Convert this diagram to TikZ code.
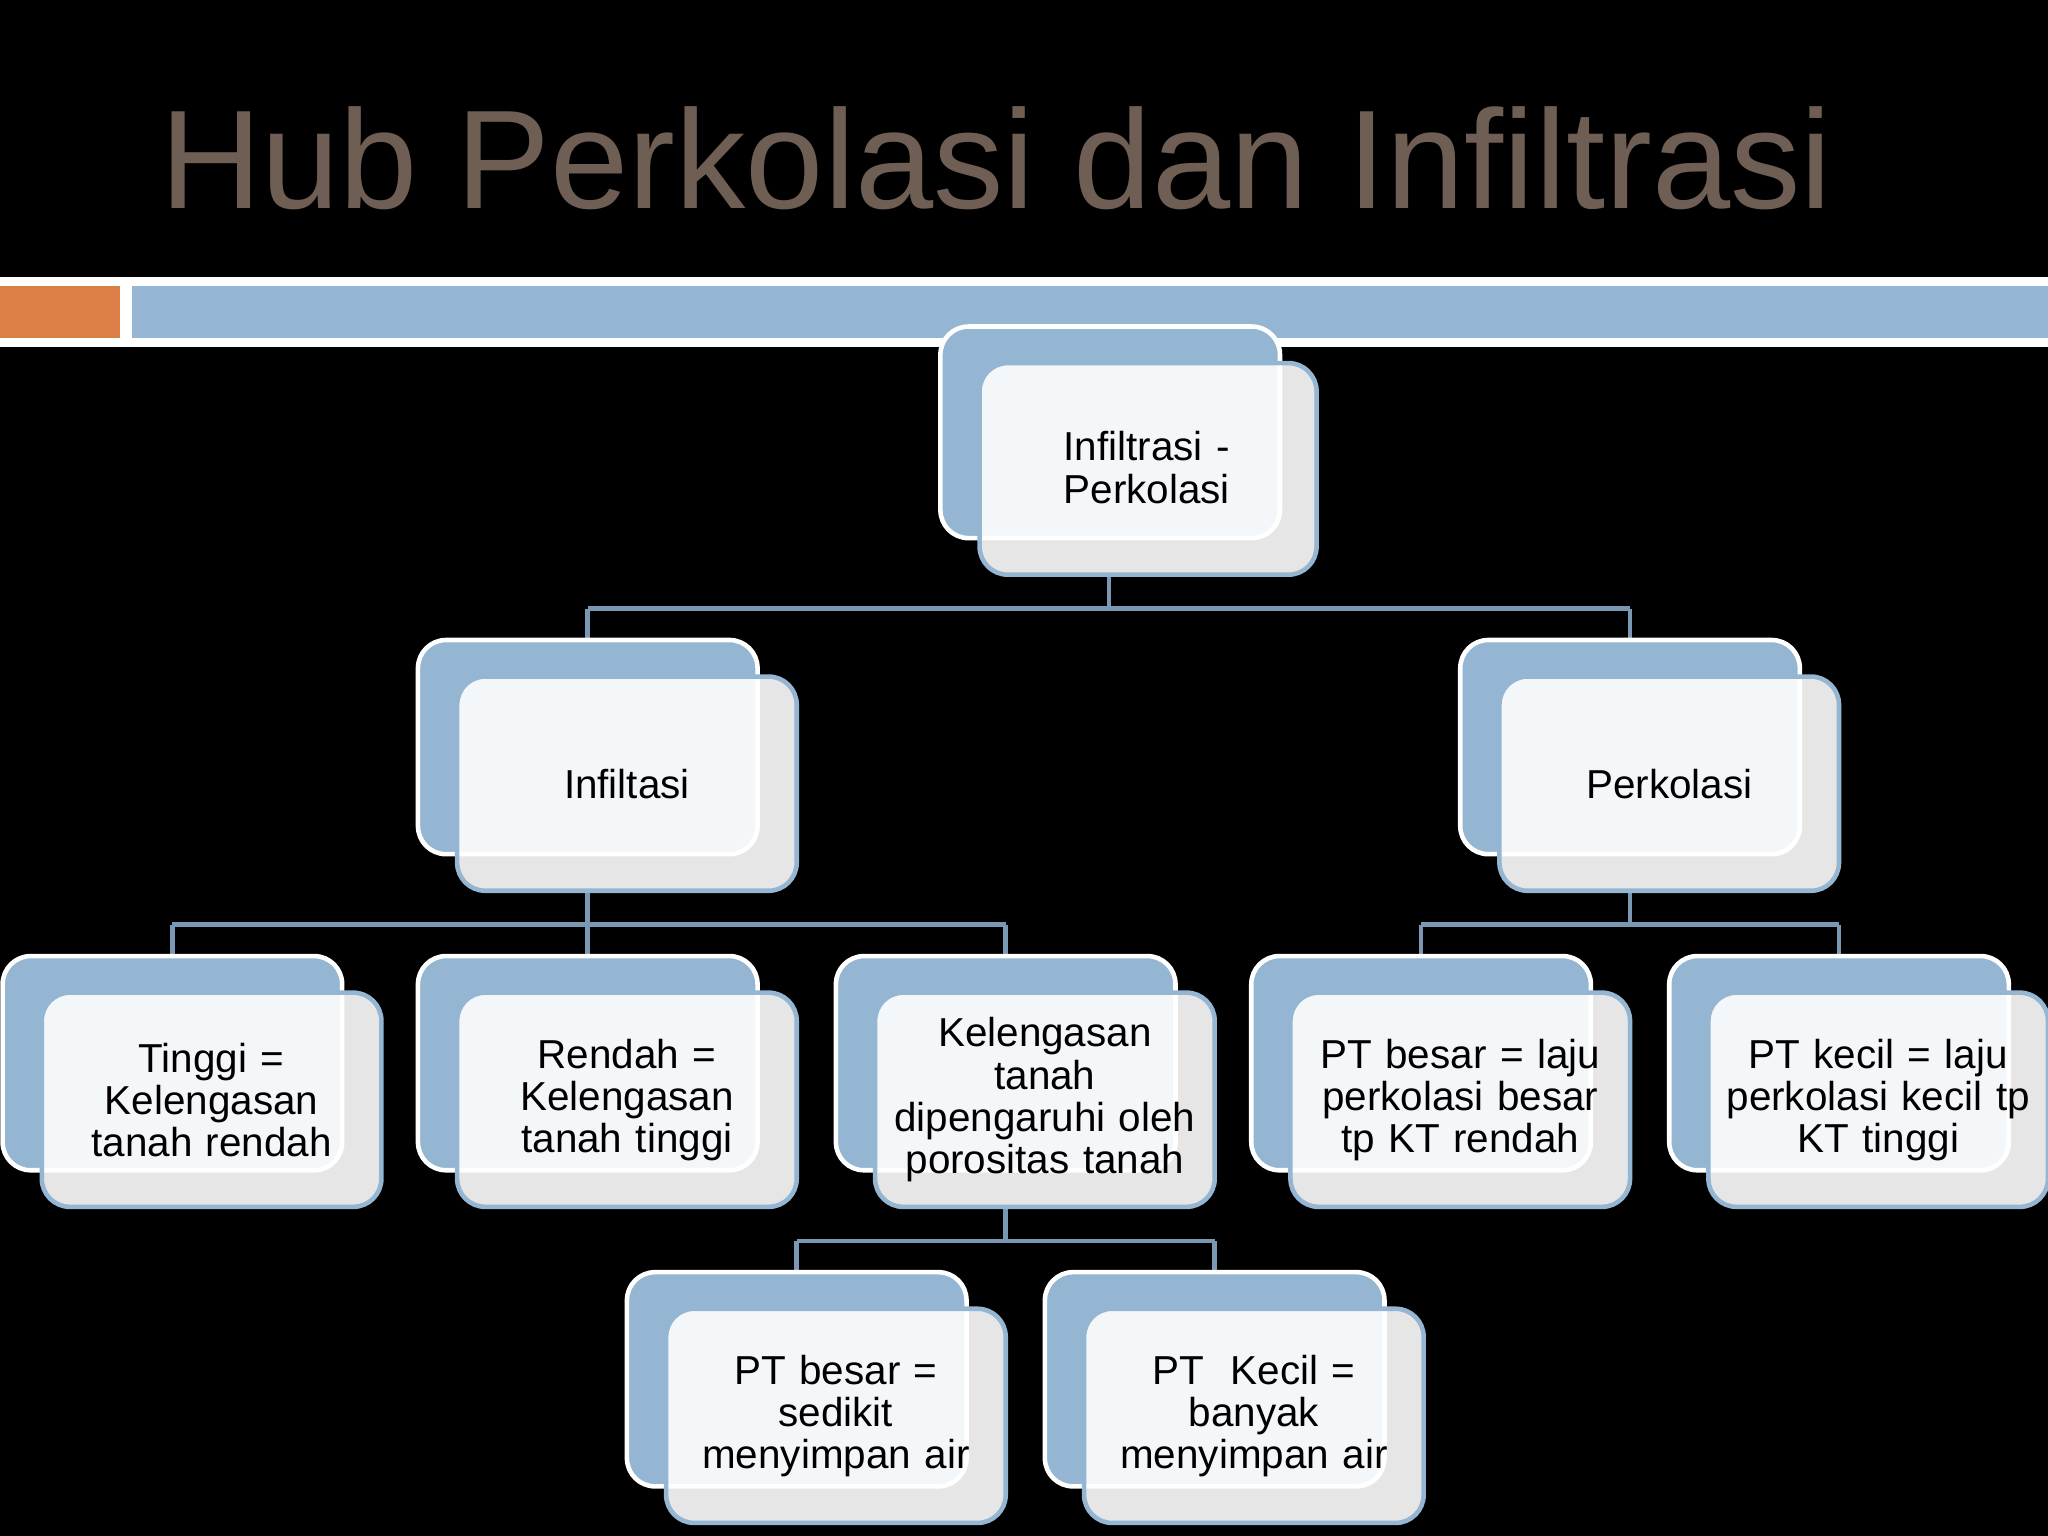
\documentclass[tikz,border=0pt]{standalone}
\usepackage{fontspec}
\setmainfont{Liberation Sans}
\begin{document}
\begin{tikzpicture}[x=0.013061cm,y=-0.013061cm,
  backbox/.style={fill=bblue,draw=white,line width=1.3pt,rounded corners=8pt},
  frontbox/.style={fill=white,fill opacity=0.9,draw=bblue,line width=1.3pt,rounded corners=8pt},
  lbl/.style={text width=3.1cm,align=center,font=\fontsize{11.5}{12}\selectfont,text opacity=1},
  conn/.style={draw=lblue,line width=1.3pt}]
\definecolor{bblue}{RGB}{148,182,210}
\definecolor{lblue}{RGB}{122,152,180}
\definecolor{ttl}{RGB}{111,94,84}
\definecolor{orng}{RGB}{221,128,71}
\fill[black] (0,0) rectangle (1568,1176);
\useasboundingbox (0,0) rectangle (1568,1176);
\node[anchor=base west,text=ttl,font=\fontsize{40}{40}\selectfont,inner sep=0] (title) at (122,160) {Hub Perkolasi dan Infiltrasi};
\fill[white] (0,212) rectangle (1568,266);
\fill[orng] (0,219) rectangle (92,259);
\fill[bblue] (101,219) rectangle (1568,259);
% connectors
\coordinate (a0) at (849,440); \coordinate (a1) at (849,466);
\coordinate (a2) at (450,466); \coordinate (a3) at (1248,466);
\coordinate (a4) at (450,490); \coordinate (a5) at (1248,490);
\draw[conn] (a0)--(a1) (a2)--(a3) (a2)--(a4) (a3)--(a5);
\coordinate (b0) at (450,684); \coordinate (b1) at (450,708);
\coordinate (b2) at (132,708); \coordinate (b3) at (770,708);
\draw[conn] (b0)--(b1) (b2)--(b3) (b2)--(132,732) (b1)--(450,732) (b3)--(770,732);
\coordinate (c0) at (1248,684); \coordinate (c1) at (1248,708);
\coordinate (c2) at (1088,708); \coordinate (c3) at (1408,708);
\draw[conn] (c0)--(c1) (c2)--(c3) (c2)--(1088,732) (c3)--(1408,732);
\coordinate (d0) at (770,926); \coordinate (d1) at (770,950);
\coordinate (d2) at (610,950); \coordinate (d3) at (930,950);
\draw[conn] (d0)--(d1) (d2)--(d3) (d2)--(610,974) (d3)--(930,974);
\newcommand{\mybox}[5]{%
  \draw[backbox] (#2,#3) rectangle ++(260,164);
  \draw[frontbox] (#2+30,#3+28) rectangle ++(260,164);
  \node[lbl] (#1) at (#2+160,#3+110) {#4};}
\draw[backbox] (720,250) rectangle (980,412);
\draw[frontbox] (750,278) rectangle (1008,440);
\node[lbl] (top) at (878,358) {Infiltrasi -\\Perkolasi};
\mybox{inf}{320}{490}{Infiltasi}{}
\mybox{perk}{1118}{490}{Perkolasi}{}
\mybox{t1}{2}{732}{Tinggi =\\Kelengasan\\tanah rendah}{}
\mybox{t2}{320}{732}{Rendah =\\Kelengasan\\tanah tinggi}{}
\mybox{t3}{640}{732}{Kelengasan\\tanah\\dipengaruhi oleh\\porositas tanah}{}
\mybox{t4}{958}{732}{PT besar = laju\\perkolasi besar\\tp KT rendah}{}
\mybox{t5}{1278}{732}{PT kecil = laju\\perkolasi kecil tp\\KT tinggi}{}
\mybox{u1}{480}{974}{PT besar =\\sedikit\\menyimpan air}{}
\mybox{u2}{800}{974}{PT\ \ Kecil =\\banyak\\menyimpan air}{}
\end{tikzpicture}
\end{document}
